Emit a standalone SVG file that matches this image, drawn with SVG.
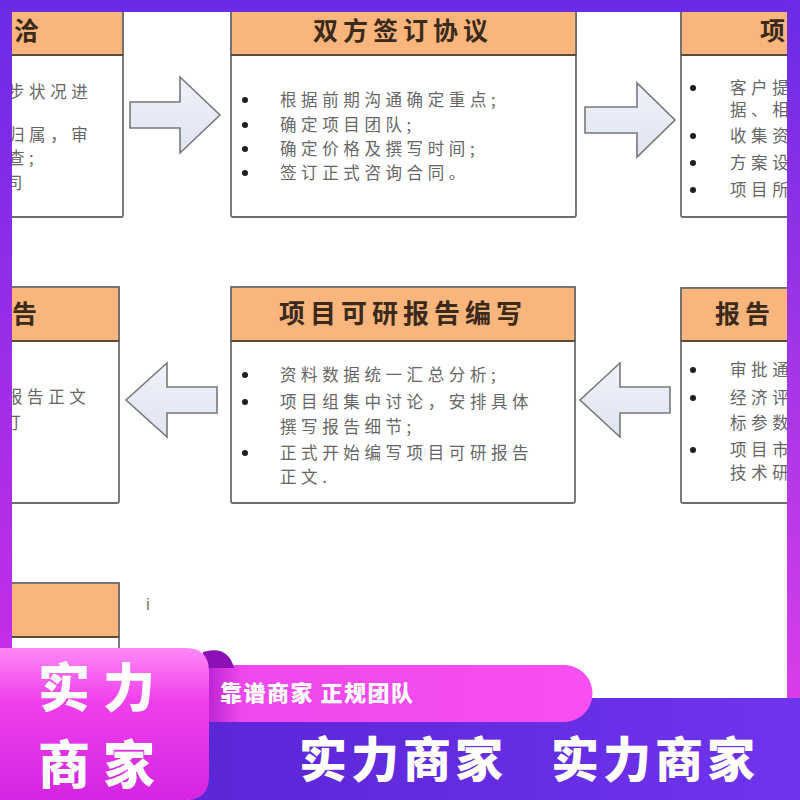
<svg xmlns="http://www.w3.org/2000/svg" width="800" height="800" viewBox="0 0 800 800">
<defs>
<style>
.box{fill:#fff;stroke:#6e6e6e;stroke-width:1.8}
.hdr{fill:#f9b57b;stroke:#6e6e6e;stroke-width:1.8}
.hline{stroke:#5e4a3a;stroke-width:2}
.ht{font-family:"Noto Sans CJK SC","Noto Sans",sans-serif;font-weight:700;font-size:25px;fill:#3a2a1c;letter-spacing:5px}
.bt{font-family:"Noto Sans CJK SC","Noto Sans",sans-serif;font-size:16.5px;fill:#666;letter-spacing:4.6px}
.dot{fill:#1e1e1e}
.arr{fill:url(#ag);stroke:#787878;stroke-width:1.6;stroke-linejoin:miter}
.wt{font-family:"Noto Sans CJK SC","Noto Sans",sans-serif;font-weight:900;fill:#fff}
</style>
<linearGradient id="ag" x1="0" y1="0" x2="0" y2="1"><stop offset="0" stop-color="#f0f2f9"/><stop offset="1" stop-color="#dfe4f1"/></linearGradient>
<linearGradient id="lb" x1="0" y1="0" x2="0" y2="1"><stop offset="0" stop-color="#6a2be6"/><stop offset="1" stop-color="#c52ee8"/></linearGradient>
<linearGradient id="rb" x1="0" y1="0" x2="0" y2="1"><stop offset="0" stop-color="#6a2be6"/><stop offset="1" stop-color="#d83ee8"/></linearGradient>
<linearGradient id="band" x1="0" y1="0" x2="1" y2="0"><stop offset="0" stop-color="#5a26d6"/><stop offset="1" stop-color="#6f34ee"/></linearGradient>
<linearGradient id="pill" x1="0" y1="0" x2="1" y2="0"><stop offset="0" stop-color="#a818c8"/><stop offset="0.12" stop-color="#f048ee"/><stop offset="1" stop-color="#f84ef2"/></linearGradient>
<linearGradient id="badge" x1="0" y1="0" x2="0" y2="1"><stop offset="0" stop-color="#ff88f6"/><stop offset="0.35" stop-color="#f040ec"/><stop offset="1" stop-color="#d424e2"/></linearGradient>
</defs>
<rect width="800" height="800" fill="#fff"/>

<g id="connectors">
<polygon class="arr" points="130,102 180,102 180,77 220,115 180,153 180,128 130,128"/>
<polygon class="arr" points="585,107 637,107 637,83 675,120 637,157 637,133 585,133"/>
<polygon class="arr" points="126,400 167,363 167,387 217,387 217,413 167,413 167,437"/>
<polygon class="arr" points="580,400 620,363 620,387 670,387 670,413 620,413 620,437"/>
</g>

<g id="node-top-left">
<rect class="box" x="-10" y="8" width="133" height="209" rx="2"/>
<rect class="hdr" x="-10" y="8" width="133" height="47"/>
<line class="hline" x1="-10" y1="55" x2="123" y2="55"/>
<text class="ht" x="14" y="40">洽</text>
<text class="bt" x="8" y="98">步状况进</text>
<text class="bt" x="8" y="141">归属，审</text>
<text class="bt" x="8" y="164">查;</text>
<text class="bt" x="6" y="189">司</text>
</g>

<g id="node-top-mid">
<rect class="box" x="231" y="8" width="345" height="209" rx="2"/>
<rect class="hdr" x="231" y="8" width="345" height="47"/>
<line class="hline" x1="231" y1="55" x2="576" y2="55"/>
<text class="ht" x="403" y="40" text-anchor="middle">双方签订协议</text>
<circle class="dot" cx="245" cy="100" r="3"/><text class="bt" x="280" y="106">根据前期沟通确定重点;</text>
<circle class="dot" cx="245" cy="125" r="3"/><text class="bt" x="280" y="131">确定项目团队;</text>
<circle class="dot" cx="245" cy="149" r="3"/><text class="bt" x="280" y="155">确定价格及撰写时间;</text>
<circle class="dot" cx="245" cy="173" r="3"/><text class="bt" x="280" y="179">签订正式咨询合同。</text>
</g>

<g id="node-top-right">
<rect class="box" x="681" y="8" width="140" height="209" rx="2"/>
<rect class="hdr" x="681" y="8" width="140" height="47"/>
<line class="hline" x1="681" y1="55" x2="800" y2="55"/>
<text class="ht" x="760" y="40">项</text>
<circle class="dot" cx="693" cy="88" r="3"/><text class="bt" x="730" y="94">客户提</text>
<text class="bt" x="730" y="116">据、相</text>
<circle class="dot" cx="693" cy="136" r="3"/><text class="bt" x="730" y="142">收集资</text>
<circle class="dot" cx="693" cy="163" r="3"/><text class="bt" x="730" y="169">方案设</text>
<circle class="dot" cx="693" cy="190" r="3"/><text class="bt" x="730" y="196">项目所</text>
</g>

<g id="node-mid-left">
<rect class="box" x="-10" y="287" width="129" height="216" rx="2"/>
<rect class="hdr" x="-10" y="287" width="129" height="54"/>
<line class="hline" x1="-10" y1="341" x2="119" y2="341"/>
<text class="ht" x="12" y="323">告</text>
<text class="bt" x="6" y="403">报告正文</text>
<text class="bt" x="4" y="429">订</text>
</g>

<g id="node-mid-center">
<rect class="box" x="231" y="287" width="344" height="216" rx="2"/>
<rect class="hdr" x="231" y="287" width="344" height="54"/>
<line class="hline" x1="231" y1="341" x2="575" y2="341"/>
<text class="ht" x="403" y="323" text-anchor="middle" style="font-size:26px">项目可研报告编写</text>
<circle class="dot" cx="245" cy="375" r="3"/><text class="bt" x="280" y="381">资料数据统一汇总分析;</text>
<circle class="dot" cx="245" cy="402" r="3"/><text class="bt" x="280" y="408">项目组集中讨论，安排具体</text>
<text class="bt" x="280" y="433">撰写报告细节;</text>
<circle class="dot" cx="245" cy="453" r="3"/><text class="bt" x="280" y="459">正式开始编写项目可研报告</text>
<text class="bt" x="280" y="483">正文.</text>
</g>

<g id="node-mid-right">
<rect class="box" x="681" y="288" width="140" height="215" rx="2"/>
<rect class="hdr" x="681" y="288" width="140" height="53"/>
<line class="hline" x1="681" y1="341" x2="800" y2="341"/>
<text class="ht" x="715" y="323">报告</text>
<circle class="dot" cx="693" cy="370" r="3"/><text class="bt" x="730" y="376">审批通</text>
<circle class="dot" cx="693" cy="398" r="3"/><text class="bt" x="730" y="404">经济评</text>
<text class="bt" x="730" y="429">标参数</text>
<circle class="dot" cx="693" cy="450" r="3"/><text class="bt" x="730" y="456">项目市</text>
<text class="bt" x="730" y="479">技术研</text>
</g>

<g id="node-bottom-left">
<rect class="box" x="-10" y="583" width="129" height="120" rx="2"/>
<rect class="hdr" x="-10" y="583" width="129" height="54"/>
<line class="hline" x1="-10" y1="637" x2="119" y2="637"/>
<text x="146" y="610" style="font-family:'Liberation Sans',sans-serif;font-size:17px;fill:#777">i</text>
</g>

<g id="frame">
<rect x="0" y="0" width="800" height="12" fill="#6a2be6"/>
<rect x="0" y="0" width="12" height="652" fill="url(#lb)"/>
<rect x="787" y="0" width="13" height="700" fill="url(#rb)"/>
</g>

<g id="banner">
<rect x="190" y="698" width="610" height="102" fill="url(#band)"/>
<path d="M195,665 H564 A28.5,28.5 0 0 1 564,722 H195 Z" fill="url(#pill)"/>
<path d="M203,652 Q228,645 234,668 L203,668 Z" fill="#8c10b4"/>
<path d="M-20,648 H186 Q209,648 209,672 V776 Q209,800 186,800 H-20 Z" fill="url(#badge)"/>
<text class="wt" x="220" y="701" style="font-size:22px;letter-spacing:1.5px">靠谱商家 正规团队</text>
<text class="wt" x="299" y="777" style="font-size:48px;letter-spacing:4px">实力商家</text>
<text class="wt" x="551" y="777" style="font-size:48px;letter-spacing:4px">实力商家</text>
<text class="wt" x="38" y="707" style="font-size:52px;letter-spacing:13px">实力</text>
<text class="wt" x="38" y="784" style="font-size:52px;letter-spacing:13px">商家</text>
</g>
</svg>
